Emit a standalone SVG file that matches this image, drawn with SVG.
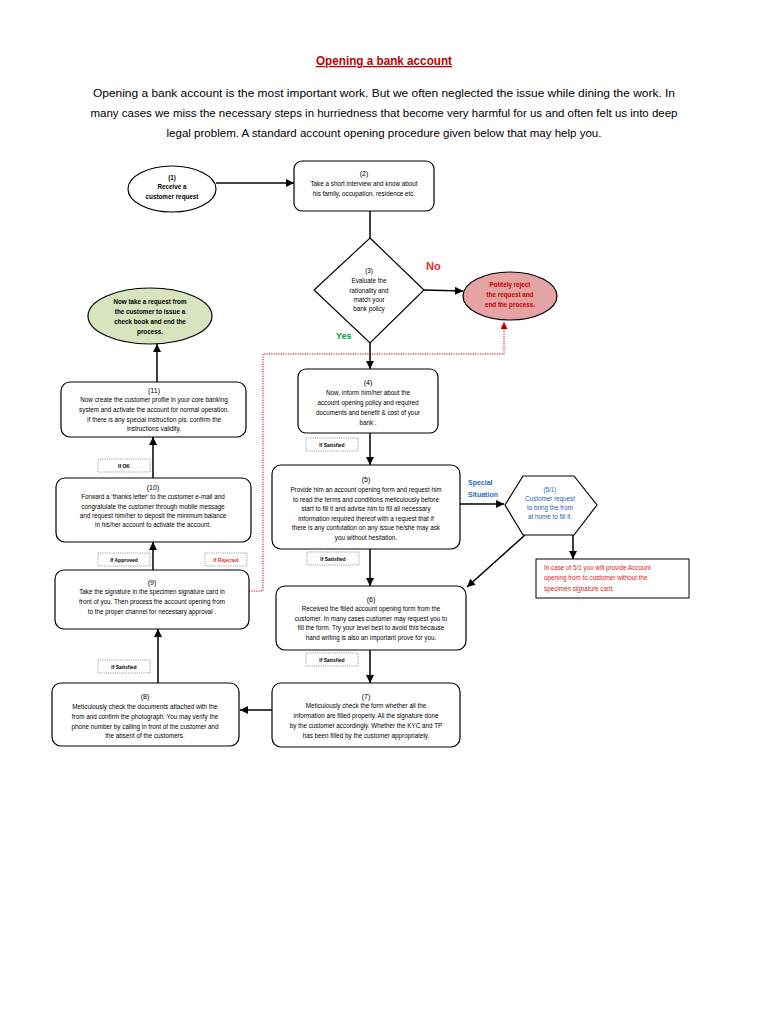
<svg xmlns="http://www.w3.org/2000/svg" width="768" height="1024" viewBox="0 0 768 1024">
<style>
text{font-family:"Liberation Sans",Arial,sans-serif;fill:#000}
.n{fill:#fff;stroke:#000;stroke-width:1.2}
.t{font-size:6.3px;text-anchor:middle}
.b{font-weight:bold}
.c{fill:none;stroke:#000;stroke-width:1.5}
.lb{fill:#fff;stroke:#777;stroke-width:0.7;stroke-dasharray:1.2 1}
.lt{font-size:5px;text-anchor:middle;font-weight:bold}
.p{font-size:11.5px;text-anchor:middle}
</style>
<defs>
<marker id="a" viewBox="0 0 10 10" refX="10" refY="5" markerWidth="8" markerHeight="8" markerUnits="userSpaceOnUse" orient="auto"><path d="M0,0L10,5L0,10z" fill="#000"/></marker>
<marker id="ar" viewBox="0 0 10 10" refX="10" refY="5" markerWidth="7" markerHeight="7" markerUnits="userSpaceOnUse" orient="auto"><path d="M0,0L10,5L0,10z" fill="#c00000"/></marker>
</defs>
<rect width="768" height="1024" fill="#fff"/>
<text x="384" y="65" style="font-size:12.5px;font-weight:bold;text-anchor:middle;fill:#c00000;text-decoration:underline" textLength="136" lengthAdjust="spacingAndGlyphs">Opening a bank account</text>
<text class="p" x="384" y="97" textLength="582" lengthAdjust="spacingAndGlyphs">Opening a bank account is the most important work. But we often neglected the issue while dining the work. In</text>
<text class="p" x="384" y="117" textLength="587" lengthAdjust="spacingAndGlyphs">many cases we miss the necessary steps in hurriedness that become very harmful for us and often felt us into deep</text>
<text class="p" x="384" y="137" textLength="435" lengthAdjust="spacingAndGlyphs">legal problem. A standard account opening procedure given below that may help you.</text>

<g id="connectors">
<path class="c" d="M216,183L294,183" marker-end="url(#a)"/>
<path class="c" d="M370,211L370,238"/>
<path class="c" d="M424,290L463,291" marker-end="url(#a)"/>
<path class="c" d="M370,343L370,369" marker-end="url(#a)"/>
<path class="c" d="M370,433L370,465" marker-end="url(#a)"/>
<path class="c" d="M460,504L504,504" marker-end="url(#a)"/>
<path class="c" d="M573,535L573,559" marker-end="url(#a)"/>
<path class="c" d="M525,535L467,587" marker-end="url(#a)"/>
<path class="c" d="M370,549L370,586" marker-end="url(#a)"/>
<path class="c" d="M370,650L370,683" marker-end="url(#a)"/>
<path class="c" d="M272,710L240,710" marker-end="url(#a)"/>
<path class="c" d="M158,683L158,629" marker-end="url(#a)"/>
<path class="c" d="M153,570L153,542" marker-end="url(#a)"/>
<path class="c" d="M153,478L153,437" marker-end="url(#a)"/>
<path class="c" d="M157,382L157,344" marker-end="url(#a)"/>
<path d="M249,591L263,591L263,354L504,354L504,322" fill="none" stroke="#c00000" stroke-width="1" stroke-dasharray="1.2 1.2" marker-end="url(#ar)"/>
</g>

<g id="labels">
<text x="426" y="270" style="font-size:11px;font-weight:bold;fill:#e03030">No</text>
<text x="336" y="339" style="font-size:9px;font-weight:bold;fill:#00a050">Yes</text>
<text x="468" y="485" style="font-size:7px;font-weight:bold;fill:#1f6fc0">Special</text>
<text x="468" y="497" style="font-size:7px;font-weight:bold;fill:#1f6fc0">Situation</text>
<rect class="lb" x="306" y="438" width="52" height="13"/><text class="lt" x="332" y="446.5">If Satisfied</text>
<rect class="lb" x="307" y="552" width="52" height="13"/><text class="lt" x="333" y="560.5">If Satisfied</text>
<rect class="lb" x="306" y="653" width="52" height="13"/><text class="lt" x="332" y="661.5">If Satisfied</text>
<rect class="lb" x="98" y="660" width="52" height="13"/><text class="lt" x="124" y="668.5">If Satisfied</text>
<rect class="lb" x="98" y="553" width="52" height="13"/><text class="lt" x="124" y="561.5">If Approved</text>
<rect class="lb" x="205" y="553" width="42" height="13"/><text class="lt" x="226" y="561.5" style="fill:#e03030">If Rejected</text>
<rect class="lb" x="98" y="459" width="52" height="13"/><text class="lt" x="124" y="467.5">If OK</text>
</g>

<g id="n1">
<ellipse class="n" cx="172" cy="189" rx="44" ry="23"/>
<text class="t b" x="172" y="180">(1)</text>
<text class="t b" x="172" y="189">Receive a</text>
<text class="t b" x="172" y="199">customer request</text>
</g>
<g id="n2">
<rect class="n" x="294" y="161" width="140" height="50" rx="8"/>
<text class="t" x="364" y="176" style="font-size:7px">(2)</text>
<text class="t" x="364" y="186">Take a short interview and know about</text>
<text class="t" x="364" y="196">his family, occupation, residence etc.</text>
</g>
<g id="n3">
<polygon class="n" points="370,238 424,290 370,343 314,290"/>
<text class="t" x="369" y="273">(3)</text>
<text class="t" x="369" y="283">Evaluate the</text>
<text class="t" x="369" y="293">rationality and</text>
<text class="t" x="369" y="302">match your</text>
<text class="t" x="369" y="311">bank policy</text>
</g>
<g id="reject">
<ellipse cx="510" cy="296" rx="47" ry="24" fill="#e6a3a3" stroke="#000" stroke-width="1.2"/>
<text class="t b" x="510" y="287" style="fill:#c00000">Politely reject</text>
<text class="t b" x="510" y="297" style="fill:#c00000">the request and</text>
<text class="t b" x="510" y="307" style="fill:#c00000">end the process.</text>
</g>
<g id="end">
<ellipse cx="150" cy="316" rx="62" ry="28" fill="#d7e4bd" stroke="#000" stroke-width="1.2"/>
<text class="t b" x="150" y="304">Now take a request from</text>
<text class="t b" x="150" y="314">the customer to issue a</text>
<text class="t b" x="150" y="324">check book and end the</text>
<text class="t b" x="150" y="334">process.</text>
</g>
<g id="n4">
<rect class="n" x="298" y="369" width="140" height="64" rx="8"/>
<text class="t" x="368" y="385" style="font-size:7px">(4)</text>
<text class="t" x="368" y="395">Now, inform him/her about the</text>
<text class="t" x="368" y="405">account opening policy and required</text>
<text class="t" x="368" y="415">documents and benefit &amp; cost of your</text>
<text class="t" x="368" y="425">bank .</text>
</g>
<g id="n5">
<rect class="n" x="272" y="465" width="188" height="84" rx="9"/>
<text class="t" x="366" y="482" style="font-size:7px">(5)</text>
<text class="t" x="366" y="492">Provide him an account opening form and request him</text>
<text class="t" x="366" y="502">to read the terms and conditions meticulously before</text>
<text class="t" x="366" y="511">start to fill it and advise him to fill all necessary</text>
<text class="t" x="366" y="521">information required thereof with a request that if</text>
<text class="t" x="366" y="530">there is any confutation on any issue he/she may ask</text>
<text class="t" x="366" y="540">you without hesitation.</text>
</g>
<g id="n51">
<polygon class="n" points="505,505 523,476 574,476 597,505 574,535 523,535"/>
<text class="t" x="550" y="492" style="fill:#1f5fb0">(5/1)</text>
<text class="t" x="550" y="501" style="fill:#1f5fb0">Customer request</text>
<text class="t" x="550" y="510" style="fill:#1f5fb0">to bring the from</text>
<text class="t" x="550" y="519" style="fill:#1f5fb0">at home to fill it.</text>
</g>
<g id="note">
<rect x="536" y="559" width="153" height="39" fill="#fff" stroke="#000" stroke-width="1"/>
<text x="544" y="570" style="font-size:6.3px;fill:#e02020">In case of 5/1 you will provide Account</text>
<text x="544" y="580" style="font-size:6.3px;fill:#e02020">opening from to customer without the</text>
<text x="544" y="591" style="font-size:6.3px;fill:#e02020">specimen signature card.</text>
</g>
<g id="n6">
<rect class="n" x="276" y="586" width="190" height="64" rx="9"/>
<text class="t" x="371" y="602" style="font-size:7px">(6)</text>
<text class="t" x="371" y="611">Received the filled account opening form from the</text>
<text class="t" x="371" y="621">customer. In many cases customer may request you to</text>
<text class="t" x="371" y="630">fill the form. Try your level best to avoid this because</text>
<text class="t" x="371" y="640">hand writing is also an important prove for you.</text>
</g>
<g id="n7">
<rect class="n" x="272" y="683" width="188" height="64" rx="9"/>
<text class="t" x="366" y="699" style="font-size:7px">(7)</text>
<text class="t" x="366" y="708">Meticulously check the form whether all the</text>
<text class="t" x="366" y="718">information are filled properly. All the signature done</text>
<text class="t" x="366" y="728">by the customer accordingly. Whether the KYC and TP</text>
<text class="t" x="366" y="738">has been filled by the customer appropriately.</text>
</g>
<g id="n8">
<rect class="n" x="52" y="683" width="187" height="63" rx="9"/>
<text class="t" x="145" y="699" style="font-size:7px">(8)</text>
<text class="t" x="145" y="709">Meticulously check the documents attached with the</text>
<text class="t" x="145" y="719">from and confirm the photograph. You may verify the</text>
<text class="t" x="145" y="729">phone number by calling in front of the customer and</text>
<text class="t" x="145" y="738">the absent of the customers.</text>
</g>
<g id="n9">
<rect class="n" x="55" y="570" width="194" height="59" rx="9"/>
<text class="t" x="152" y="585" style="font-size:7px">(9)</text>
<text class="t" x="152" y="594">Take the signature in the specimen signature card in</text>
<text class="t" x="152" y="604">front of you. Then process the account opening from</text>
<text class="t" x="152" y="614">to the proper channel for necessary approval .</text>
</g>
<g id="n10">
<rect class="n" x="56" y="478" width="195" height="64" rx="9"/>
<text class="t" x="153" y="490" style="font-size:7px">(10)</text>
<text class="t" x="153" y="499">Forward a ‘thanks letter’ to the customer e-mail and</text>
<text class="t" x="153" y="509">congratulate the customer through mobile message</text>
<text class="t" x="153" y="518">and request him/her to deposit the minimum balance</text>
<text class="t" x="153" y="527">in his/her account to activate the account.</text>
</g>
<g id="n11">
<rect class="n" x="61" y="382" width="185" height="55" rx="9"/>
<text class="t" x="154" y="393" style="font-size:7px">(11)</text>
<text class="t" x="154" y="402">Now create the customer profile in your core banking</text>
<text class="t" x="154" y="412">system and activate the account for normal operation.</text>
<text class="t" x="154" y="422">If there is any special instruction pls. confirm the</text>
<text class="t" x="154" y="431">instructions validity.</text>
</g>
</svg>
